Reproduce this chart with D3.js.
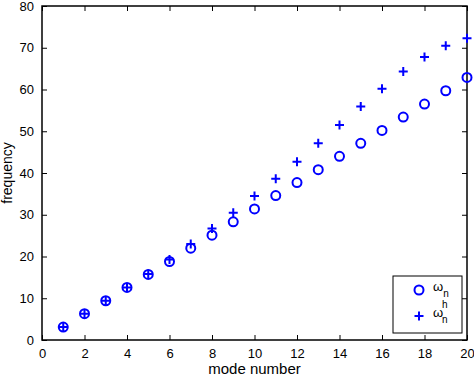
<!DOCTYPE html>
<html>
<head>
<meta charset="utf-8">
<script src="https://cdn.jsdelivr.net/npm/d3@7"></script>
<style>
  html, body { margin: 0; padding: 0; background: #fff; }
  svg { display: block; font-family: "Liberation Sans", Arial, sans-serif; }
</style>
</head>
<body>
<svg id="chart" width="474" height="376"></svg>
<script>
// mode numbers and the two frequency series
const modes = d3.range(1, 21);
const omegaN = [3.1, 6.3, 9.4, 12.6, 15.7, 18.8, 22.0, 25.1, 28.3, 31.4,
                34.6, 37.7, 40.8, 44.0, 47.1, 50.2, 53.4, 56.5, 59.7, 62.9];
const omegaHN = [3.1, 6.3, 9.4, 12.6, 15.8, 19.3, 23.0, 26.7, 30.5, 34.5,
                 38.6, 42.7, 47.1, 51.5, 55.9, 60.2, 64.3, 67.8, 70.5, 72.3];
const xTicks = [0, 2, 4, 6, 8, 10, 12, 14, 16, 18, 20];
const yTicks = [0, 10, 20, 30, 40, 50, 60, 70, 80];

const BLUE = '#0000ff';
const L = 42, R = 467, T = 6, B = 340;

const svg = d3.select('#chart');
const x = d3.scaleLinear().domain([0, 20]).range([L, R]);
const y = d3.scaleLinear().domain([0, 80]).range([B, T]);

// axes, ticks point inward like matlab
const tk = 5;
function styleAxis(g) {
  g.select('.domain').remove();
  g.selectAll('.tick line').attr('stroke', '#000').attr('stroke-width', 1);
  g.selectAll('.tick text').attr('font-size', 13).attr('fill', '#000')
    .attr('font-family', '"Liberation Sans", Arial, sans-serif');
}
svg.append('g').attr('transform', `translate(0,${B})`)
  .call(d3.axisBottom(x).tickValues(xTicks).tickFormat(d3.format('d')).tickSizeInner(-tk).tickPadding(9))
  .call(styleAxis);
svg.append('g').attr('transform', `translate(0,${T})`)
  .call(d3.axisTop(x).tickValues(xTicks).tickSizeInner(-tk).tickFormat(''))
  .call(styleAxis);
svg.append('g').attr('transform', `translate(${L},0)`)
  .call(d3.axisLeft(y).tickValues(yTicks).tickFormat(d3.format('d')).tickSizeInner(-tk).tickPadding(8))
  .call(styleAxis);
svg.append('g').attr('transform', `translate(${R},0)`)
  .call(d3.axisRight(y).tickValues(yTicks).tickSizeInner(-tk).tickFormat(''))
  .call(styleAxis);

svg.append('rect')
  .attr('x', L).attr('y', T).attr('width', R - L).attr('height', B - T)
  .attr('fill', 'none').attr('stroke', '#000').attr('stroke-width', 1.5);

// axis labels
svg.append('text').attr('x', (L + R) / 2).attr('y', 374)
  .attr('text-anchor', 'middle').attr('font-size', 15).text('mode number');
svg.append('text').attr('transform', `translate(12,${(T + B) / 2}) rotate(-90)`)
  .attr('text-anchor', 'middle').attr('font-size', 14).text('frequency');

// markers
function drawCircles(g, cx, cy) {
  g.append('circle').attr('cx', cx).attr('cy', cy).attr('r', 4.5)
    .attr('fill', 'none').attr('stroke', BLUE).attr('stroke-width', 2);
}
function drawPlus(g, cx, cy) {
  g.append('path').attr('d', `M${cx - 4.5},${cy}H${cx + 4.5}M${cx},${cy - 4.5}V${cy + 4.5}`)
    .attr('stroke', BLUE).attr('stroke-width', 2).attr('fill', 'none');
}

const pts = svg.append('g');
modes.forEach((m, i) => drawCircles(pts, x(m), y(omegaN[i])));
modes.forEach((m, i) => drawPlus(pts, x(m), y(omegaHN[i])));

// legend
const lg = svg.append('g');
lg.append('rect').attr('x', 393).attr('y', 276).attr('width', 69).attr('height', 57)
  .attr('fill', '#fff').attr('stroke', '#000').attr('stroke-width', 1);
drawCircles(lg, 419, 290);
drawPlus(lg, 419, 316);
const t1 = lg.append('text').attr('x', 433).attr('y', 291).attr('font-size', 13);
t1.append('tspan').text('ω');
t1.append('tspan').attr('dy', 6).attr('font-size', 10).text('n');
const t2 = lg.append('text').attr('x', 433).attr('y', 317).attr('font-size', 13);
t2.append('tspan').text('ω');
t2.append('tspan').attr('x', 442).attr('dy', -9).attr('font-size', 10).text('h');
t2.append('tspan').attr('x', 442).attr('dy', 15).attr('font-size', 10).text('n');
</script>
</body>
</html>
